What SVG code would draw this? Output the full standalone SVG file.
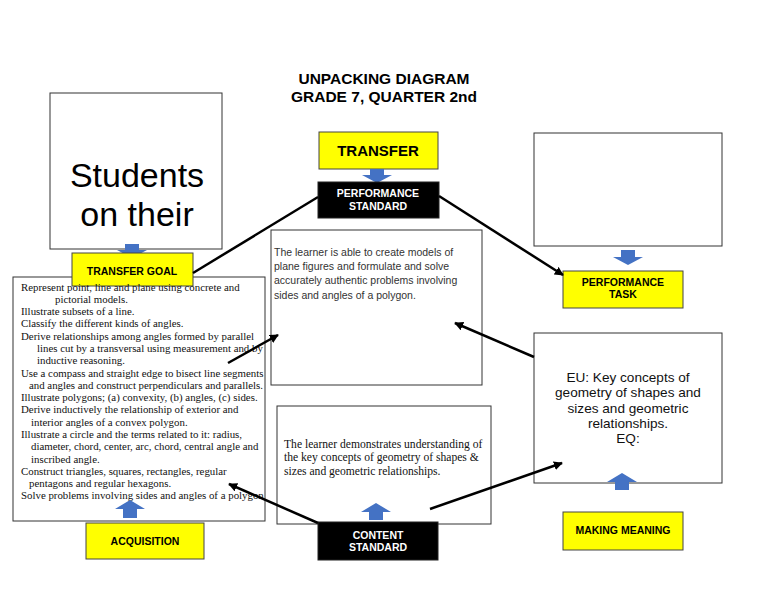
<svg xmlns="http://www.w3.org/2000/svg" width="768" height="594" viewBox="0 0 768 594">
<style>
.box{fill:#fff;stroke:#333;stroke-width:1}
.yel{fill:#ffff00;stroke:#444;stroke-width:1}
.blk{fill:#000;stroke:#222;stroke-width:1}
.blue{fill:#4472c4}
.lbl{font-family:"Liberation Sans",Arial,sans-serif;font-weight:bold;font-size:10.5px;fill:#000;text-anchor:middle}
.wl{font-family:"Liberation Sans",Arial,sans-serif;font-weight:bold;font-size:10.5px;fill:#fff;text-anchor:middle}
.title{font-family:"Liberation Sans",Arial,sans-serif;font-weight:bold;font-size:15.5px;fill:#000;text-anchor:middle}
.ser{font-family:"Liberation Serif","Times New Roman",serif;font-size:10.85px;fill:#111}
.ser2{font-family:"Liberation Serif","Times New Roman",serif;font-size:11.6px;fill:#111}
.cal{font-family:"Liberation Sans",Arial,sans-serif;font-size:10.5px;fill:#333}
.eu{font-family:"Liberation Sans",Arial,sans-serif;font-size:13.6px;fill:#111;text-anchor:middle}
.con{stroke:#000;stroke-width:2.5;fill:none}
</style>
<defs>
<clipPath id="listclip"><rect x="13" y="277" width="252" height="244"/></clipPath>
<marker id="ah" viewBox="0 0 10 10" refX="9" refY="5" markerWidth="3.6" markerHeight="3.6" orient="auto" markerUnits="strokeWidth">
<path d="M0,0 L10,5 L0,10 z" fill="#000"/>
</marker>
</defs>

<g id="title">
<text class="title" x="384" y="84">UNPACKING DIAGRAM</text>
<text class="title" x="384" y="102">GRADE 7, QUARTER 2nd</text>
</g>

<g id="students-box">
<rect class="box" x="50" y="93" width="172" height="156"/>
<text x="137" y="187" font-family="'Liberation Sans',Arial,sans-serif" font-size="34" text-anchor="middle" fill="#000">Students</text>
<text x="137" y="226" font-family="'Liberation Sans',Arial,sans-serif" font-size="34" text-anchor="middle" fill="#000">on their</text>
<polygon class="blue" points="125,244 139,244 139,250 147,250 132,258 117,250 125,250"/>
</g>

<g id="acquisition-list">
<rect class="box" x="13" y="277" width="252" height="244"/>
</g>

<g id="transfer-goal">
<rect class="yel" x="72" y="253" width="121" height="33"/>
<text class="lbl" x="132" y="275">TRANSFER GOAL</text>
</g>

<g id="acquisition-text" clip-path="url(#listclip)">
<text class="ser" x="21" y="291">Represent point, line and plane using concrete and</text>
<text class="ser" x="55" y="303">pictorial models.</text>
<text class="ser" x="21" y="315">Illustrate subsets of a line.</text>
<text class="ser" x="21" y="327">Classify the different kinds of angles.</text>
<text class="ser" x="21" y="340">Derive relationships among angles formed by parallel</text>
<text class="ser" x="37" y="352">lines cut by a transversal using measurement and by</text>
<text class="ser" x="37" y="364">inductive reasoning.</text>
<text class="ser" x="21" y="377">Use a compass and straight edge to bisect line segments</text>
<text class="ser" x="29" y="389">and angles and construct perpendiculars and parallels.</text>
<text class="ser" x="21" y="401">Illustrate polygons; (a) convexity, (b) angles, (c) sides.</text>
<text class="ser" x="21" y="413">Derive inductively the relationship of exterior and</text>
<text class="ser" x="31" y="426">interior angles of a convex polygon.</text>
<text class="ser" x="21" y="438">Illustrate a circle and the terms related to it: radius,</text>
<text class="ser" x="31" y="450">diameter, chord, center, arc, chord, central angle and</text>
<text class="ser" x="31" y="463">inscribed angle.</text>
<text class="ser" x="21" y="475">Construct triangles, squares, rectangles, regular</text>
<text class="ser" x="29" y="487">pentagons and regular hexagons.</text>
<text class="ser" x="21" y="499">Solve problems involving sides and angles of a polygon</text>
</g>
<g id="acquisition-arrow">
<polygon class="blue" points="130,500 145,509 137,509 137,518 123,518 123,509 115,509"/>
</g>

<g id="acquisition">
<rect class="yel" x="86" y="523" width="118" height="36"/>
<text class="lbl" x="145" y="545">ACQUISITION</text>
</g>

<g id="transfer">
<rect class="yel" x="319" y="132" width="119" height="37"/>
<text class="title" x="378" y="156" style="font-size:15px">TRANSFER</text>
<polygon class="blue" points="370,169 384,169 384,175 392,175 377,183 362,175 370,175"/>
</g>

<g id="performance-standard">
<rect class="blk" x="318" y="182" width="121" height="36"/>
<text class="wl" x="378" y="197">PERFORMANCE</text>
<text class="wl" x="378" y="210">STANDARD</text>
</g>

<g id="performance-standard-text">
<rect class="box" x="271" y="230" width="211" height="155"/>
<text class="cal" x="274" y="256">The learner is able to create models of</text>
<text class="cal" x="274" y="270">plane figures and formulate and solve</text>
<text class="cal" x="274" y="284">accurately authentic problems involving</text>
<text class="cal" x="274" y="299">sides and angles of a polygon.</text>
</g>

<g id="performance-task-box">
<rect class="box" x="534" y="133" width="188" height="113"/>
<polygon class="blue" points="621,250 635,250 635,257 643,257 628,265 613,257 621,257"/>
</g>

<g id="performance-task">
<rect class="yel" x="563" y="271" width="120" height="37"/>
<text class="lbl" x="623" y="286">PERFORMANCE</text>
<text class="lbl" x="623" y="298">TASK</text>
</g>

<g id="eu-box">
<rect class="box" x="534" y="333" width="188" height="150"/>
<text class="eu" x="628" y="382">EU: Key concepts of</text>
<text class="eu" x="628" y="397">geometry of shapes and</text>
<text class="eu" x="628" y="413">sizes and geometric</text>
<text class="eu" x="628" y="428">relationships.</text>
<text class="eu" x="628" y="443">EQ:</text>
<polygon class="blue" points="622,473 637,482 629,482 629,490 615,490 615,482 607,482"/>
</g>

<g id="making-meaning">
<rect class="yel" x="563" y="512" width="120" height="38"/>
<text class="lbl" x="623" y="534">MAKING MEANING</text>
</g>

<g id="content-standard-text">
<rect class="box" x="277" y="406" width="214" height="118"/>
<text class="ser2" x="284" y="448">The learner demonstrates understanding of</text>
<text class="ser2" x="284" y="461">the key concepts of geometry of shapes &amp;</text>
<text class="ser2" x="284" y="475">sizes and geometric relationships.</text>
<polygon class="blue" points="376,503 391,512 383,512 383,520 369,520 369,512 361,512"/>
</g>

<g id="content-standard">
<rect class="blk" x="318" y="522" width="120" height="38"/>
<text class="wl" x="378" y="539">CONTENT</text>
<text class="wl" x="378" y="551">STANDARD</text>
</g>

<g id="connectors">
<line class="con" x1="318" y1="197" x2="193" y2="273"/>
<line class="con" x1="439" y1="196" x2="563" y2="275" marker-end="url(#ah)"/>
<line class="con" x1="228" y1="363" x2="278" y2="335" marker-end="url(#ah)"/>
<line class="con" x1="534" y1="357" x2="455" y2="323" marker-end="url(#ah)"/>
<line class="con" x1="318" y1="523" x2="229" y2="484" marker-end="url(#ah)"/>
<line class="con" x1="430" y1="509" x2="562" y2="463" marker-end="url(#ah)"/>
</g>
</svg>
